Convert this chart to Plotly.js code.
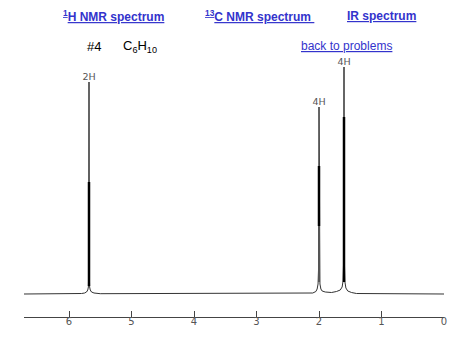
<!DOCTYPE html>
<html>
<head>
<meta charset="utf-8">
<script src="https://cdn.plot.ly/plotly-3.0.1.min.js"></script>
<style>html,body{margin:0;padding:0;background:#fff;}#chart{width:474px;height:356px;}</style>
</head>
<body>
<div id="chart"></div>
<script>
// Spectrum trace (ppm, relative intensity)
const specPpm = [6.72, 5.90, 5.80, 5.75, 5.72, 5.70, 5.69, 5.685, 5.68, 5.675, 5.67, 5.66, 5.64, 5.60, 5.50,
                 2.20, 2.10, 2.05, 2.03, 2.015, 2.005, 2.00, 1.995, 1.985, 1.97, 1.95, 1.90, 1.80,
                 1.72, 1.66, 1.63, 1.615, 1.605, 1.60, 1.595, 1.585, 1.57, 1.54, 1.48, 1.40, 0];
const specInt = [0, 0, 0.5, 1, 2, 4, 7, 20, 212, 20, 7, 4, 2, 1, 0.3,
                 0.3, 1, 2.5, 5, 10, 30, 187, 30, 10, 5, 3, 2, 1.5,
                 2.5, 4, 7, 13, 35, 227, 35, 12, 6, 3, 1.5, 0.5, 0];
// Overlapping multiplet lines (dense parts of peaks)
const densePpm = [5.68, 2.00, 1.60];
const denseLo  = [8, 68, 12];
const denseHi  = [112, 128, 177];
const lowerPpm = [2.00];
const lowerLo  = [12];
const lowerHi  = [68];
// Integration labels
const peakPpm    = [5.68, 2.00, 1.60];
const peakTop    = [212, 187, 227];
const peakLabels = ['2H', '4H', '4H'];
// Axis ticks
const tickVals = [0, 1, 2, 3, 4, 5, 6];
const tickText = ['0', '1', '2', '3', '4', '5', '6'];

function segs(p, lo, hi) {
  const x = [], y = [];
  for (let i = 0; i < p.length; i++) { x.push(p[i], p[i], null); y.push(lo[i], hi[i], null); }
  return {x, y};
}
const d = segs(densePpm, denseLo, denseHi);
const l = segs(lowerPpm, lowerLo, lowerHi);

const traces = [
  {x: specPpm, y: specInt, mode: 'lines', line: {color: '#333', width: 1}, hoverinfo: 'skip'},
  {x: d.x, y: d.y, mode: 'lines', line: {color: '#000', width: 2.5}, hoverinfo: 'skip'},
  {x: l.x, y: l.y, mode: 'lines', line: {color: '#555', width: 2}, hoverinfo: 'skip'},
  {x: peakPpm, y: peakTop, mode: 'text', text: peakLabels, textposition: 'top center',
   textfont: {family: 'DejaVu Sans', size: 9.5, color: '#555'}, hoverinfo: 'skip'}
];

const T = 55, B = 317; // plot top / bottom pixel rows
const L = 24, R = 444;
const px = v => (v - L) / (R - L);
const py = v => (B - v) / (B - T);
const sans = 'Liberation Sans, Arial, sans-serif';
const linkFont = {family: sans, size: 12, color: '#3333cc'};
const ann = (text, x, y, font) => ({text, x: px(x), y: py(y), xref: 'paper', yref: 'paper',
  xanchor: 'left', yanchor: 'middle', showarrow: false, font, borderpad: 0});

const layout = {
  width: 474, height: 356,
  margin: {l: L, r: 474 - R, t: T, b: 356 - B, pad: 0},
  paper_bgcolor: '#fff', plot_bgcolor: '#fff',
  showlegend: false,
  xaxis: {range: [6.72, 0], tickvals: tickVals, ticktext: tickText, ticks: 'inside', ticklen: 6,
          tickcolor: '#444', showline: true, linecolor: '#444', linewidth: 1, showgrid: false,
          zeroline: false, ticklabelstandoff: -5,
          tickfont: {family: 'DejaVu Sans', size: 10, color: '#555'}, fixedrange: true},
  yaxis: {range: [-23, 239], visible: false, fixedrange: true},
  annotations: [
    ann('<b><u><sup>1</sup>H NMR spectrum</u></b>', 62, 16, linkFont),
    ann('<b><u><sup>13</sup>C NMR spectrum </u></b>', 204, 16, linkFont),
    ann('<b><u>IR spectrum</u></b>', 346, 16, linkFont),
    ann('#4', 86, 46, {family: sans, size: 13, color: '#000'}),
    ann('C<sub>6</sub>H<sub>10</sub>', 122, 46, {family: sans, size: 13, color: '#000'}),
    ann('<u>back to problems</u>', 300, 46, {family: sans, size: 12, color: '#3333cc'})
  ]
};
Plotly.newPlot('chart', traces, layout, {staticPlot: true, displayModeBar: false});
</script>
</body>
</html>
